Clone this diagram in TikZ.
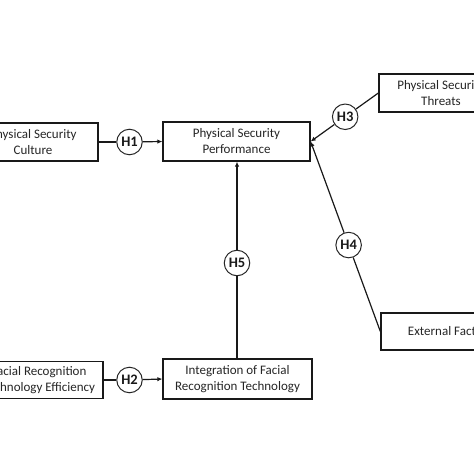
\documentclass[tikz,border=0pt]{standalone}
\usepackage{fontspec}
\setmainfont{Carlito}
\usetikzlibrary{arrows.meta,calc}
\begin{document}
\begin{tikzpicture}[x=1pt,y=-1pt,
  box/.style={draw=black!90,line width=1.3pt,rectangle,align=center,text=black!85,
    font=\fontsize{13}{16}\selectfont,inner sep=0pt},
  hyp/.style={draw=black!85,line width=1pt,circle,fill=white,minimum size=25.5pt,inner sep=0pt,
    text=black!90,font=\fontsize{14.5}{15}\selectfont\bfseries},
  link/.style={draw=black!90,line width=1.2pt},
  arr/.style={link,-{Latex[length=5pt,width=4.5pt]}}]
\useasboundingbox (0,0) rectangle (474,474);
\clip (0,0) rectangle (474,474);
\fill[white] (0,0) rectangle (474,474);
\node[box,minimum width=130pt,minimum height=38pt] (culture) at (33,142) {Physical Security\\Culture};
\node[box,minimum width=147pt,minimum height=39pt] (perf) at (236.5,141.5) {Physical Security\\Performance};
\node[box,minimum width=149pt,minimum height=40pt] (integ) at (237.5,379) {Integration of Facial\\Recognition Technology};
\node[box,minimum width=128pt,minimum height=37pt] (eff) at (39,380) {Facial Recognition\\Technology Efficiency};
\node[box,minimum width=124pt,minimum height=38pt] (threats) at (441,93) {Physical Security\\Threats};
\node[box,minimum width=138pt,minimum height=37pt] (ext) at (450,331.5) {External Factors};
\node[hyp] (h1) at (129.5,142) {H1};
\node[hyp] (h2) at (129.5,380) {H2};
\node[hyp] (h5) at (237,263) {H5};
\coordinate (pe) at (perf.east);
\node[hyp] (h3) at ($(threats.west)!0.49!(pe)$) {H3};
\node[hyp] (h4) at ($(ext.west)!0.455!(pe)$) {H4};
\draw[link] (culture.east) -- (h1);
\draw[arr] (h1) -- (perf.west);
\draw[link] (eff.east) -- (h2);
\draw[arr] (h2) -- (integ.west);
\draw[link] (integ.north -| h5) -- (h5);
\draw[arr] (h5) -- (perf.south -| h5);
\draw[link] (threats.west) -- (h3);
\draw[arr] (h3) -- (pe);
\draw[link] (ext.west) -- (h4);
\draw[arr] (h4) -- (pe);
\end{tikzpicture}
\end{document}
